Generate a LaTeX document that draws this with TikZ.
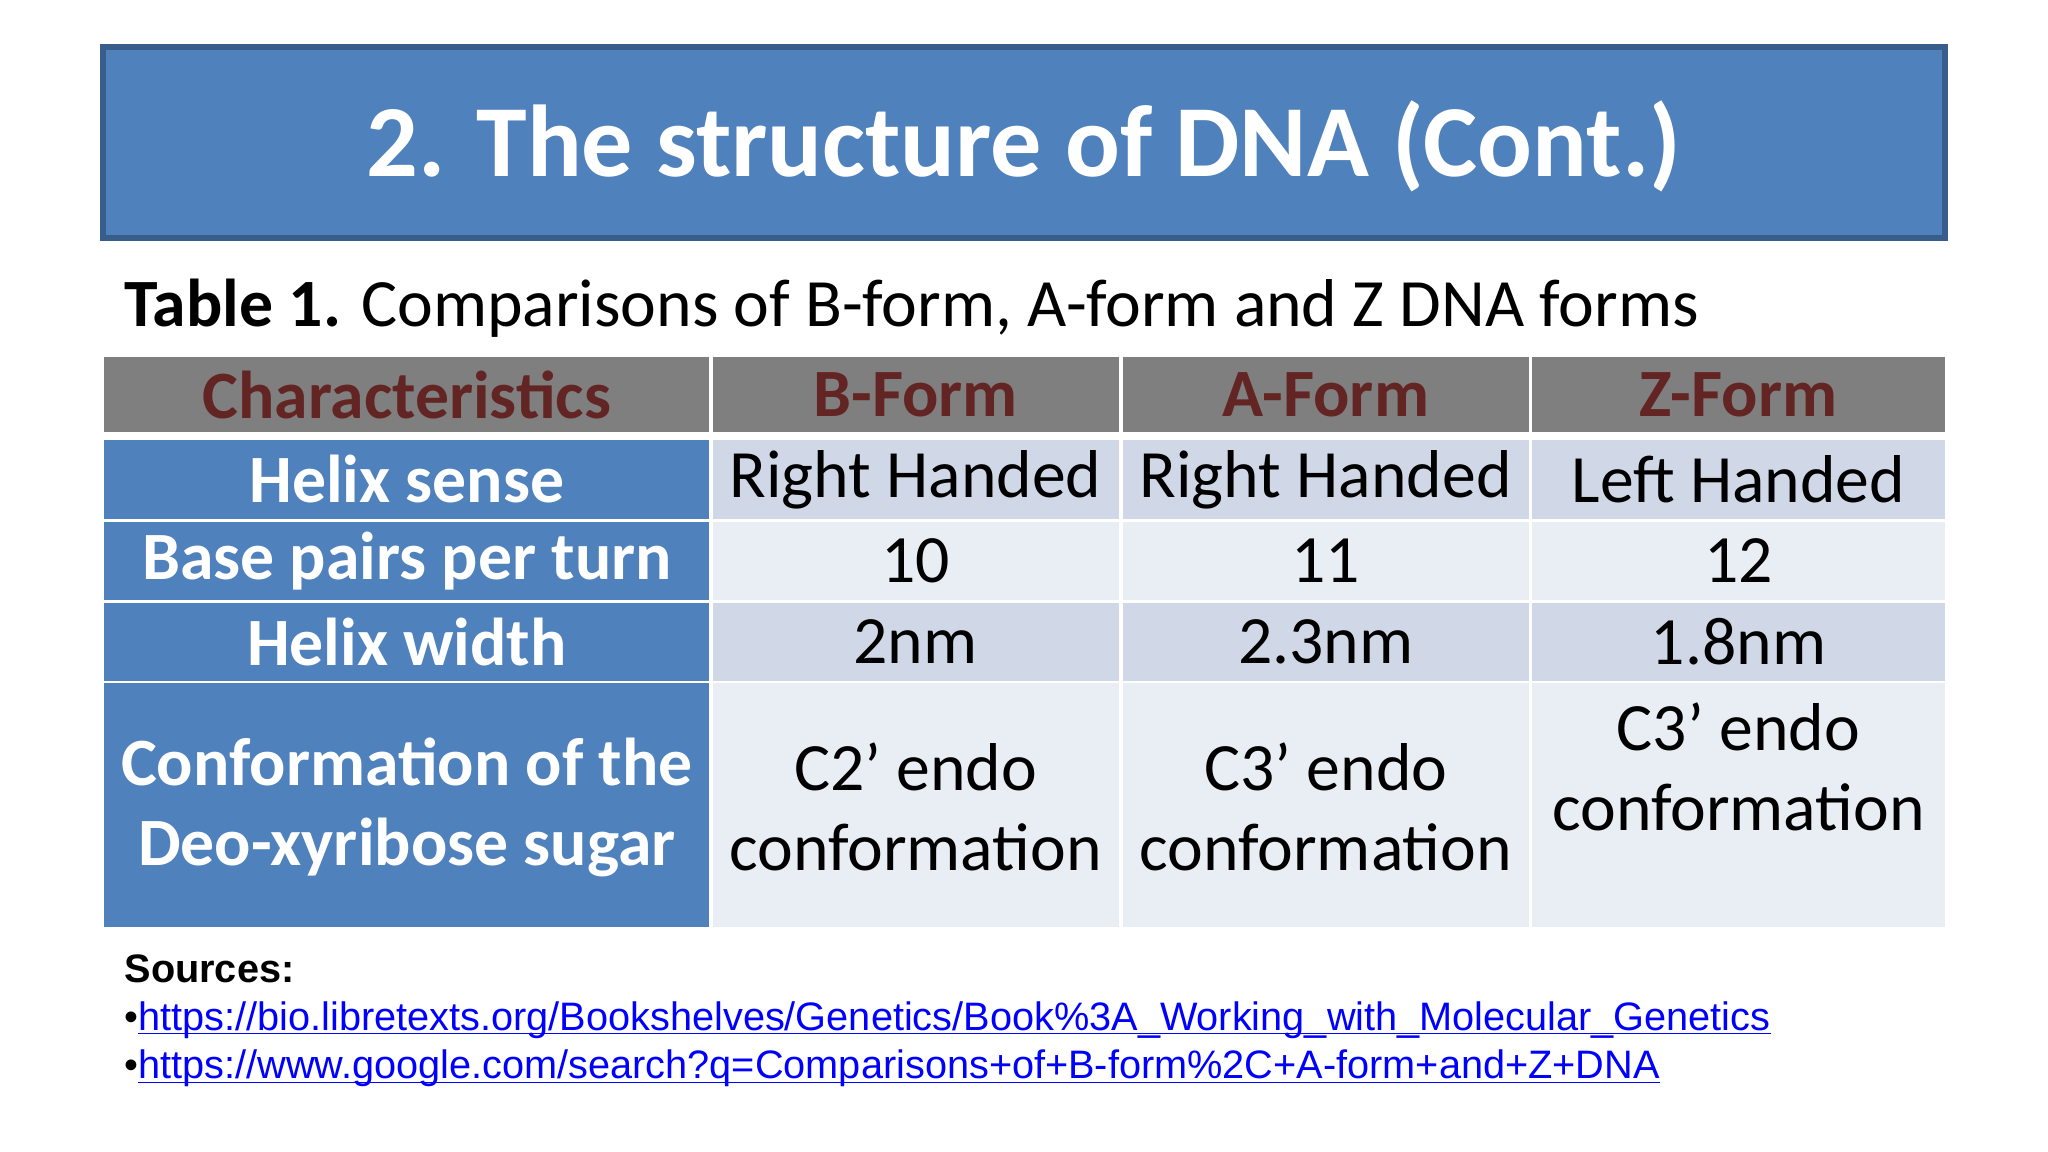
\documentclass[tikz,border=0pt]{standalone}
\usepackage{fontspec}
\setmainfont{Carlito}
\newfontfamily\arialf{Liberation Sans}
\definecolor{hblue}{HTML}{4F81BD}
\definecolor{hborder}{HTML}{385D8A}
\definecolor{hgray}{HTML}{7F7F7F}
\definecolor{hred}{HTML}{632523}
\definecolor{cdark}{HTML}{D0D8E8}
\definecolor{clight}{HTML}{E9EDF4}
\definecolor{linkb}{HTML}{0000FF}
\newcommand{\apo}{\char"0027\relax}
\tikzset{
 cell/.style={inner sep=0pt, outer sep=0pt, align=center, font=\fontsize{29.5}{35}\selectfont},
 hcell/.style={cell, fill=hgray, text=hred, font=\fontsize{29.5}{35}\selectfont\bfseries},
 fcell/.style={cell, fill=hblue, text=white, font=\fontsize{29.5}{35}\selectfont\bfseries},
}
\begin{document}
\begin{tikzpicture}[x=0.02cm,y=-0.02cm]
\useasboundingbox[fill=white] (0,0) rectangle (1568,882);
\node[draw=hborder, line width=2.5pt, fill=hblue, minimum width=1410*0.02cm, minimum height=146*0.02cm, inner sep=0pt] (title) at (784,109) {};
\node[text=white, font=\fontsize{44.5}{52}\selectfont\bfseries] (tt) at (784,112) {2. The structure of DNA (Cont.)};
\node[anchor=base west, inner sep=0pt, font=\fontsize{29.5}{34}\selectfont] (cap) at (95,250) {\textbf{Table 1.} Comparisons of B-form, A-form and Z DNA forms};
% header row y 273-331
\node[hcell, minimum width=463*0.02cm, minimum height=58*0.02cm] (h0) at (311.5,302) {Characteristics};
\node[hcell, minimum width=311*0.02cm, minimum height=58*0.02cm] (h1) at (701,302) {B-Form};
\node[hcell, minimum width=311*0.02cm, minimum height=58*0.02cm] (h2) at (1015,302) {A-Form};
\node[hcell, minimum width=316*0.02cm, minimum height=58*0.02cm] (h3) at (1331,302) {Z-Form};
% row1 337-397
\node[fcell, minimum width=463*0.02cm, minimum height=60*0.02cm] (a0) at (311.5,367) {Helix sense};
\node[cell, fill=cdark, minimum width=311*0.02cm, minimum height=60*0.02cm] (a1) at (701,367) {Right Handed};
\node[cell, fill=cdark, minimum width=311*0.02cm, minimum height=60*0.02cm] (a2) at (1015,367) {Right Handed};
\node[cell, fill=cdark, minimum width=316*0.02cm, minimum height=60*0.02cm] (a3) at (1331,367) {Left Handed};
% row2 399-459
\node[fcell, minimum width=463*0.02cm, minimum height=60*0.02cm] (b0) at (311.5,429.5) {Base pairs per turn};
\node[cell, fill=clight, minimum width=311*0.02cm, minimum height=60*0.02cm] (b1) at (701,429.5) {10};
\node[cell, fill=clight, minimum width=311*0.02cm, minimum height=60*0.02cm] (b2) at (1015,429.5) {11};
\node[cell, fill=clight, minimum width=316*0.02cm, minimum height=60*0.02cm] (b3) at (1331,429.5) {12};
% row3 461-521
\node[fcell, minimum width=463*0.02cm, minimum height=60*0.02cm] (c0) at (311.5,491.5) {Helix width};
\node[cell, fill=cdark, minimum width=311*0.02cm, minimum height=60*0.02cm] (c1) at (701,491.5) {2nm};
\node[cell, fill=cdark, minimum width=311*0.02cm, minimum height=60*0.02cm] (c2) at (1015,491.5) {2.3nm};
\node[cell, fill=cdark, minimum width=316*0.02cm, minimum height=60*0.02cm] (c3) at (1331,491.5) {1.8nm};
% row4 523-710
\node[fcell, minimum width=463*0.02cm, minimum height=187*0.02cm] (d0) at (311.5,616.5) {};
\node[cell, fill=clight, minimum width=311*0.02cm, minimum height=187*0.02cm] (d1) at (701,616.5) {};
\node[cell, fill=clight, minimum width=311*0.02cm, minimum height=187*0.02cm] (d2) at (1015,616.5) {};
\node[cell, fill=clight, minimum width=316*0.02cm, minimum height=187*0.02cm] (d3) at (1331,616.5) {};
\node[fcell, fill=none] (d0t) at (311.5,618) {Conformation of the\\Deo-xyribose sugar};
\node[cell] (d1t) at (701,618) {C2\apo{} endo\\conformation};
\node[cell] (d2t) at (1015,618) {C3\apo{} endo\\conformation};
\node[cell] (d3t) at (1331,587) {C3\apo{} endo\\conformation};
% sources
\node[anchor=base west, inner sep=0pt, font=\arialf\fontsize{17.3}{20}\selectfont\bfseries] (src) at (95,752) {Sources:};
\node[anchor=base west, inner sep=0pt, font=\arialf\fontsize{17.3}{20}\selectfont] (l1) at (95,789) {\textbullet\textcolor{linkb}{\underbar{https://bio.libretexts.org/Bookshelves/Genetics/Book\%3A\_Working\_with\_Molecular\_Genetics}}};
\node[anchor=base west, inner sep=0pt, font=\arialf\fontsize{17.3}{20}\selectfont] (l2) at (95,826) {\textbullet\textcolor{linkb}{\underbar{https://www.google.com/search?q=Comparisons+of+B-form\%2C+A-form+and+Z+DNA}}};
\end{tikzpicture}
\end{document}
